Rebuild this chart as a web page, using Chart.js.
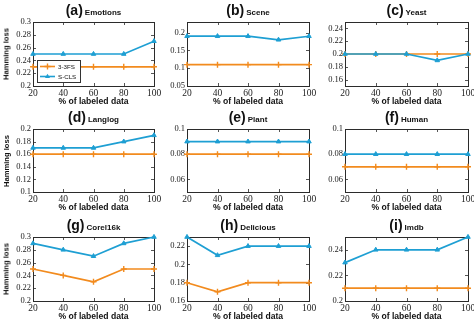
<!DOCTYPE html>
<html>
<head>
<meta charset="utf-8">
<script src="https://cdn.jsdelivr.net/npm/chart.js@4/dist/chart.umd.min.js"></script>
<style>
  html, body { margin:0; padding:0; background:#fff; }
  body { width:474px; height:323px; overflow:hidden; position:relative; font-family:"Liberation Sans", Arial, sans-serif; }
  .cv { position:absolute; }
  .ttl { position:absolute; text-align:center; white-space:nowrap; color:#111; font-weight:bold; }
  .ttl .big { font-size:14px; }
  .ttl .small { font-size:8px; margin-left:2px; }
  .xl { position:absolute; text-align:center; white-space:nowrap; font-weight:bold; font-size:8.6px; color:#111; }
  .yl { position:absolute; white-space:nowrap; font-weight:bold; font-size:7.6px; color:#111; transform:translate(-50%,-50%) rotate(-90deg); }
  .legend { position:absolute; background:#fff; border:1px solid #333; box-sizing:border-box; }
</style>
</head>
<body>
<script>
// ---------- data ----------
const xCategories = [20, 40, 60, 80, 100];
const seriesNames = ['3-3FS', 'S-CLS'];
const datasetTitles = ['Emotions', 'Scene', 'Yeast', 'Langlog', 'Plant', 'Human', 'Corel16k', 'Delicious', 'Imdb'];
const panelLetters = ['(a)', '(b)', '(c)', '(d)', '(e)', '(f)', '(g)', '(h)', '(i)'];

const emotions3FS  = [0.23, 0.23, 0.23, 0.23, 0.23];
const emotionsSCLS = [0.25, 0.25, 0.25, 0.25, 0.27];
const scene3FS     = [0.11, 0.11, 0.11, 0.11, 0.11];
const sceneSCLS    = [0.19, 0.19, 0.19, 0.18, 0.19];
const yeast3FS     = [0.20, 0.20, 0.20, 0.20, 0.20];
const yeastSCLS    = [0.20, 0.20, 0.20, 0.19, 0.20];
const langlog3FS   = [0.16, 0.16, 0.16, 0.16, 0.16];
const langlogSCLS  = [0.17, 0.17, 0.17, 0.18, 0.19];
const plant3FS     = [0.08, 0.08, 0.08, 0.08, 0.08];
const plantSCLS    = [0.09, 0.09, 0.09, 0.09, 0.09];
const human3FS     = [0.07, 0.07, 0.07, 0.07, 0.07];
const humanSCLS    = [0.08, 0.08, 0.08, 0.08, 0.08];
const corel3FS     = [0.25, 0.24, 0.23, 0.25, 0.25];
const corelSCLS    = [0.29, 0.28, 0.27, 0.29, 0.30];
const delicious3FS = [0.18, 0.17, 0.18, 0.18, 0.18];
const deliciousSCLS= [0.23, 0.21, 0.22, 0.22, 0.22];
const imdb3FS      = [0.21, 0.21, 0.21, 0.21, 0.21];
const imdbSCLS     = [0.23, 0.24, 0.24, 0.24, 0.25];

const emotionsTicks  = [0.2, 0.22, 0.24, 0.26, 0.28, 0.3];
const sceneTicks     = [0.05, 0.1, 0.15, 0.2];
const yeastTicks     = [0.16, 0.18, 0.2, 0.22, 0.24];
const langlogTicks   = [0.1, 0.12, 0.14, 0.16, 0.18, 0.2];
const plantTicks     = [0.06, 0.08, 0.1];
const humanTicks     = [0.06, 0.08, 0.1];
const corelTicks     = [0.2, 0.22, 0.24, 0.26, 0.28, 0.3];
const deliciousTicks = [0.16, 0.18, 0.2, 0.22];
const imdbTicks      = [0.2, 0.22, 0.24];

const yRanges = [[0.2,0.3],[0.05,0.23],[0.15,0.25],[0.1,0.2],[0.05,0.1],[0.05,0.1],[0.2,0.3],[0.16,0.23],[0.2,0.25]];

// ---------- layout ----------
const colBox = [[33,154],[187,309],[345,468]];
const rowBox = [[22,86],[129,192],[237,301]];
const COLOR_3FS = '#F28B1E';
const COLOR_SCLS = '#1E9FD3';
const YW = 33, PADR = 14, PADT = 8, XH = 16;

const panels = [
  [emotions3FS, emotionsSCLS, emotionsTicks],
  [scene3FS, sceneSCLS, sceneTicks],
  [yeast3FS, yeastSCLS, yeastTicks],
  [langlog3FS, langlogSCLS, langlogTicks],
  [plant3FS, plantSCLS, plantTicks],
  [human3FS, humanSCLS, humanTicks],
  [corel3FS, corelSCLS, corelTicks],
  [delicious3FS, deliciousSCLS, deliciousTicks],
  [imdb3FS, imdbSCLS, imdbTicks]
];

const framePlugin = {
  id: 'frame',
  beforeDatasetsDraw(chart) {
    const {ctx, chartArea:{left,right,top,bottom}, scales:{x,y}} = chart;
    ctx.save();
    ctx.strokeStyle = '#2b2b2b';
    ctx.lineWidth = 0.8;
    ctx.beginPath();
    x.ticks.forEach((t,i) => {
      const px = Math.round(x.getPixelForTick(i)) + 0.5;
      ctx.moveTo(px, bottom); ctx.lineTo(px, bottom - 3);
      ctx.moveTo(px, top); ctx.lineTo(px, top + 3);
    });
    y.ticks.forEach((t,i) => {
      const py = Math.round(y.getPixelForTick(i)) + 0.5;
      ctx.moveTo(left, py); ctx.lineTo(left + 3, py);
      ctx.moveTo(right, py); ctx.lineTo(right - 3, py);
    });
    ctx.stroke();
    ctx.lineWidth = 1;
    ctx.strokeRect(Math.round(left)+0.5, Math.round(top)+0.5, Math.round(right-left), Math.round(bottom-top));
    ctx.restore();
  }
};

const fmt = v => String(+(+v).toFixed(4));

panels.forEach((p, idx) => {
  const col = idx % 3, row = Math.floor(idx / 3);
  const [bx0, bx1] = colBox[col];
  const [by0, by1] = rowBox[row];
  const cLeft = bx0 - YW, cTop = by0 - PADT;
  const cW = YW + (bx1 - bx0) + PADR;
  const cH = PADT + (by1 - by0) + XH;
  const cv = document.createElement('canvas');
  cv.className = 'cv';
  cv.width = cW; cv.height = cH;
  cv.style.left = cLeft + 'px'; cv.style.top = cTop + 'px';
  cv.style.width = cW + 'px'; cv.style.height = cH + 'px';
  document.body.appendChild(cv);

  const [s3, sc, yt] = p;
  new Chart(cv, {
    type: 'line',
    data: {
      labels: xCategories,
      datasets: [
        { label: seriesNames[0], data: s3, borderColor: COLOR_3FS, backgroundColor: COLOR_3FS,
          borderWidth: 1.7, pointStyle: 'cross', pointRadius: 3, pointBorderWidth: 1.4, order: 1, clip: false, tension: 0 },
        { label: seriesNames[1], data: sc, borderColor: COLOR_SCLS, backgroundColor: COLOR_SCLS,
          borderWidth: 1.7, pointStyle: 'triangle', pointRadius: 2.6, pointBorderWidth: 1, order: 0, clip: false, tension: 0 }
      ]
    },
    options: {
      responsive: false, animation: false, devicePixelRatio: 1,
      layout: { padding: { left: 0, right: PADR, top: PADT, bottom: 0 } },
      plugins: { legend: { display: false }, tooltip: { enabled: false }, title: { display: false } },
      scales: {
        x: {
          type: 'category', offset: false,
          grid: { display: false, drawTicks: false }, border: { display: false },
          ticks: { padding: 2, maxRotation: 0, autoSkip: false, color: '#222',
                   font: { family: 'Liberation Serif', size: 9.5 } },
          afterFit: s => { s.height = XH; }
        },
        y: {
          type: 'linear', min: yRanges[idx][0], max: yRanges[idx][1],
          grid: { display: false, drawTicks: false }, border: { display: false },
          afterBuildTicks: s => { s.ticks = yt.map(v => ({ value: v })); },
          ticks: { padding: 2, autoSkip: false, color: '#222', callback: v => fmt(v),
                   font: { family: 'Liberation Serif', size: 8.5 } },
          afterFit: s => { s.width = YW; }
        }
      }
    },
    plugins: [framePlugin]
  });

  // title
  const t = document.createElement('div');
  t.className = 'ttl';
  t.style.left = (bx0 - 20) + 'px';
  t.style.width = (bx1 - bx0 + 40) + 'px';
  t.style.top = (by0 - 21) + 'px';
  t.style.height = '18px'; t.style.lineHeight = '18px';
  t.innerHTML = '<span class="big"></span><span class="small"></span>';
  t.children[0].textContent = panelLetters[idx];
  t.children[1].textContent = datasetTitles[idx];
  document.body.appendChild(t);

  // x label
  const xl = document.createElement('div');
  xl.className = 'xl';
  xl.style.left = (bx0 - 20) + 'px';
  xl.style.width = (bx1 - bx0 + 40) + 'px';
  xl.style.top = (by1 + 9) + 'px';
  xl.style.lineHeight = '12px';
  xl.textContent = '% of labeled data';
  document.body.appendChild(xl);

  if (col === 0) {
    const yl = document.createElement('div');
    yl.className = 'yl';
    yl.style.left = '6px';
    yl.style.top = ((by0 + by1) / 2) + 'px';
    yl.textContent = 'Hamming loss';
    document.body.appendChild(yl);
  }
});

// legend (inside panel a)
const lg = document.createElement('div');
lg.className = 'legend';
lg.style.left = '37px'; lg.style.top = '60px'; lg.style.width = '44px'; lg.style.height = '23px';
const NS = 'http://www.w3.org/2000/svg';
const svg = document.createElementNS(NS, 'svg');
svg.setAttribute('width', '42'); svg.setAttribute('height', '21');
[[COLOR_3FS, 'cross', 5.5], [COLOR_SCLS, 'tri', 15.5]].forEach(([c, m, yy], i) => {
  const ln = document.createElementNS(NS, 'line');
  ln.setAttribute('x1', 2); ln.setAttribute('x2', 17); ln.setAttribute('y1', yy); ln.setAttribute('y2', yy);
  ln.setAttribute('stroke', c); ln.setAttribute('stroke-width', 1.6);
  svg.appendChild(ln);
  if (m === 'cross') {
    const pth = document.createElementNS(NS, 'path');
    pth.setAttribute('d', `M9.5 ${yy-3} V${yy+3} M6.5 ${yy} H12.5`);
    pth.setAttribute('stroke', c); pth.setAttribute('stroke-width', 1.4);
    svg.appendChild(pth);
  } else {
    const pth = document.createElementNS(NS, 'path');
    pth.setAttribute('d', `M9.5 ${yy-2.8} L12 ${yy+1.6} L7 ${yy+1.6} Z`);
    pth.setAttribute('fill', c);
    svg.appendChild(pth);
  }
  const tx = document.createElementNS(NS, 'text');
  tx.setAttribute('x', 20); tx.setAttribute('y', yy + 2.2);
  tx.setAttribute('font-family', 'Liberation Sans'); tx.setAttribute('font-size', '6.2');
  tx.setAttribute('fill', '#111');
  tx.textContent = seriesNames[i];
  svg.appendChild(tx);
});
lg.appendChild(svg);
document.body.appendChild(lg);
</script>
</body>
</html>
